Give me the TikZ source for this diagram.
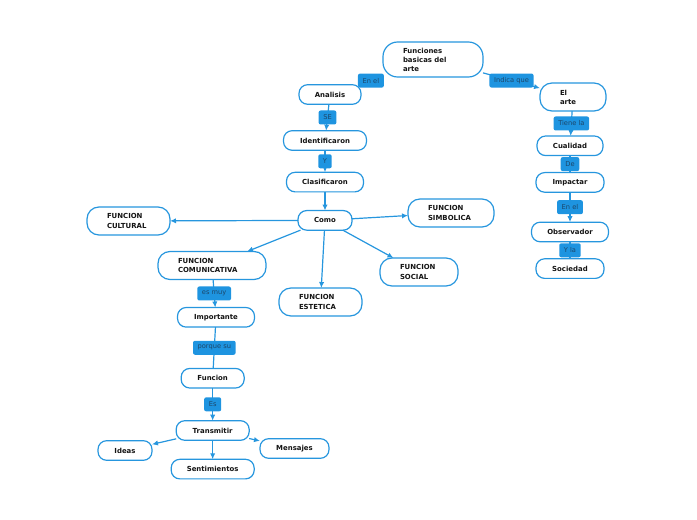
\documentclass[tikz,border=0pt]{standalone}
\usepackage{fontspec}
\setmainfont{DejaVu Sans}
\usetikzlibrary{arrows.meta,positioning}
\definecolor{mapblue}{RGB}{38,150,222}
\definecolor{tagblue}{RGB}{30,148,224}
\definecolor{tagtext}{RGB}{28,70,105}
\definecolor{textblack}{RGB}{20,20,20}

\begin{document}
\begin{tikzpicture}[
  x=0.75pt, y=-0.75pt,
  node distance=15pt,
  box/.style={rectangle, rounded corners=6.5pt, draw=mapblue, fill=white, line width=0.9pt, minimum height=14.7pt, inner sep=2pt, outer sep=0pt, font=\fontsize{5.2}{6.8}\selectfont\bfseries, text=textblack},
  big/.style={box, rounded corners=9pt, minimum height=21pt, align=left, inner xsep=15pt, inner ysep=2pt},
  tag/.style={rectangle, rounded corners=1.5pt, fill=tagblue, text=tagtext, font=\fontsize{5}{6}\selectfont, minimum height=10.5pt, inner xsep=3.5pt, inner ysep=1pt},
  arr/.style={-{Latex[length=4.5pt,width=4pt]}, draw=mapblue, line width=0.9pt},
  lnk/.style={draw=mapblue, line width=0.9pt}
]
\useasboundingbox (0,0) rectangle (697,520);

\node[big, text width=45pt, minimum height=26.25pt, rounded corners=11pt] (a1) at (433,59.5) {Funciones\\basicas del\\arte};
\node[box, minimum width=46.5pt] (a2) at (330,94.5) {Analisis};
\node[box, minimum width=62.25pt] (a3) at (325,140.5) {Identificaron};
\node[box, minimum width=57.75pt, below=16.5pt of a3] (a4) {Clasificaron};
\node[box, minimum width=40.5pt, below=14pt of a4] (a5) {Como};

\node[big, text width=32.25pt] (c1) at (128.5,221) {FUNCION\\CULTURAL};
\node[big, text width=34.5pt] (c2) at (451,213) {FUNCION\\SIMBOLICA};
\node[big, text width=51pt] (c3) at (212,265.5) {FUNCION\\COMUNICATIVA};
\node[big, text width=32.25pt] (c4) at (320.5,302) {FUNCION\\ESTETICA};
\node[big, text width=28.5pt] (c5) at (419,272) {FUNCION\\SOCIAL};

\node[box, minimum width=57.75pt, below=21pt of c3, xshift=3pt] (d1) {Importante};
\node[box, minimum width=47.25pt, below=31pt of d1, xshift=-2.5pt] (d2) {Funcion};
\node[box, minimum width=54.75pt, below=24.5pt of d2] (d3) {Transmitir};
\node[box, minimum width=40.5pt] (d4) at (125,450.5) {Ideas};
\node[box, minimum width=62.25pt, below=14.25pt of d3] (d5) {Sentimientos};
\node[box, minimum width=51.75pt] (d6) at (294.5,448.5) {Mensajes};

\node[big, text width=19.5pt] (b1) at (573,97) {El\\arte};
\node[box, minimum width=49.5pt, below=18.75pt of b1, xshift=-2.25pt] (b2) {Cualidad};
\node[box, minimum width=51pt, below=12.75pt of b2] (b3) {Impactar};
\node[box, minimum width=57.75pt, below=22.5pt of b3] (b4) {Observador};
\node[box, minimum width=51pt, below=12.75pt of b4] (b5) {Sociedad};

\draw[lnk] (a1) -- node[tag]{En el} (a2);
\draw[arr] (a1) -- node[tag]{Indica que} (b1);
\draw[arr] (a2) -- node[tag]{SE} (a3);
\draw[arr] (a3) -- node[tag]{Y} (a4);
\draw[arr] (a4) -- (a5);

\draw[arr] (a5) -- (c1);
\draw[arr] (a5) -- (c2);
\draw[arr] (a5) -- (c3);
\draw[arr] (a5) -- (c4);
\draw[arr] (a5) -- (c5);

\draw[arr] (c3) -- node[tag]{es muy} (d1);
\draw[lnk] (d1) -- node[tag]{porque su} (d2);
\draw[arr] (d2) -- node[tag]{Es} (d3);
\draw[arr] (d3) -- (d4);
\draw[arr] (d3) -- (d5);
\draw[arr] (d3) -- (d6);

\draw[arr] (b1) -- node[tag]{Tiene la} (b2);
\draw[lnk] (b2) -- node[tag]{De} (b3);
\draw[arr] (b3) -- node[tag]{En el} (b4);
\draw[lnk] (b4) -- node[tag]{Y la} (b5);
\end{tikzpicture}
\end{document}
